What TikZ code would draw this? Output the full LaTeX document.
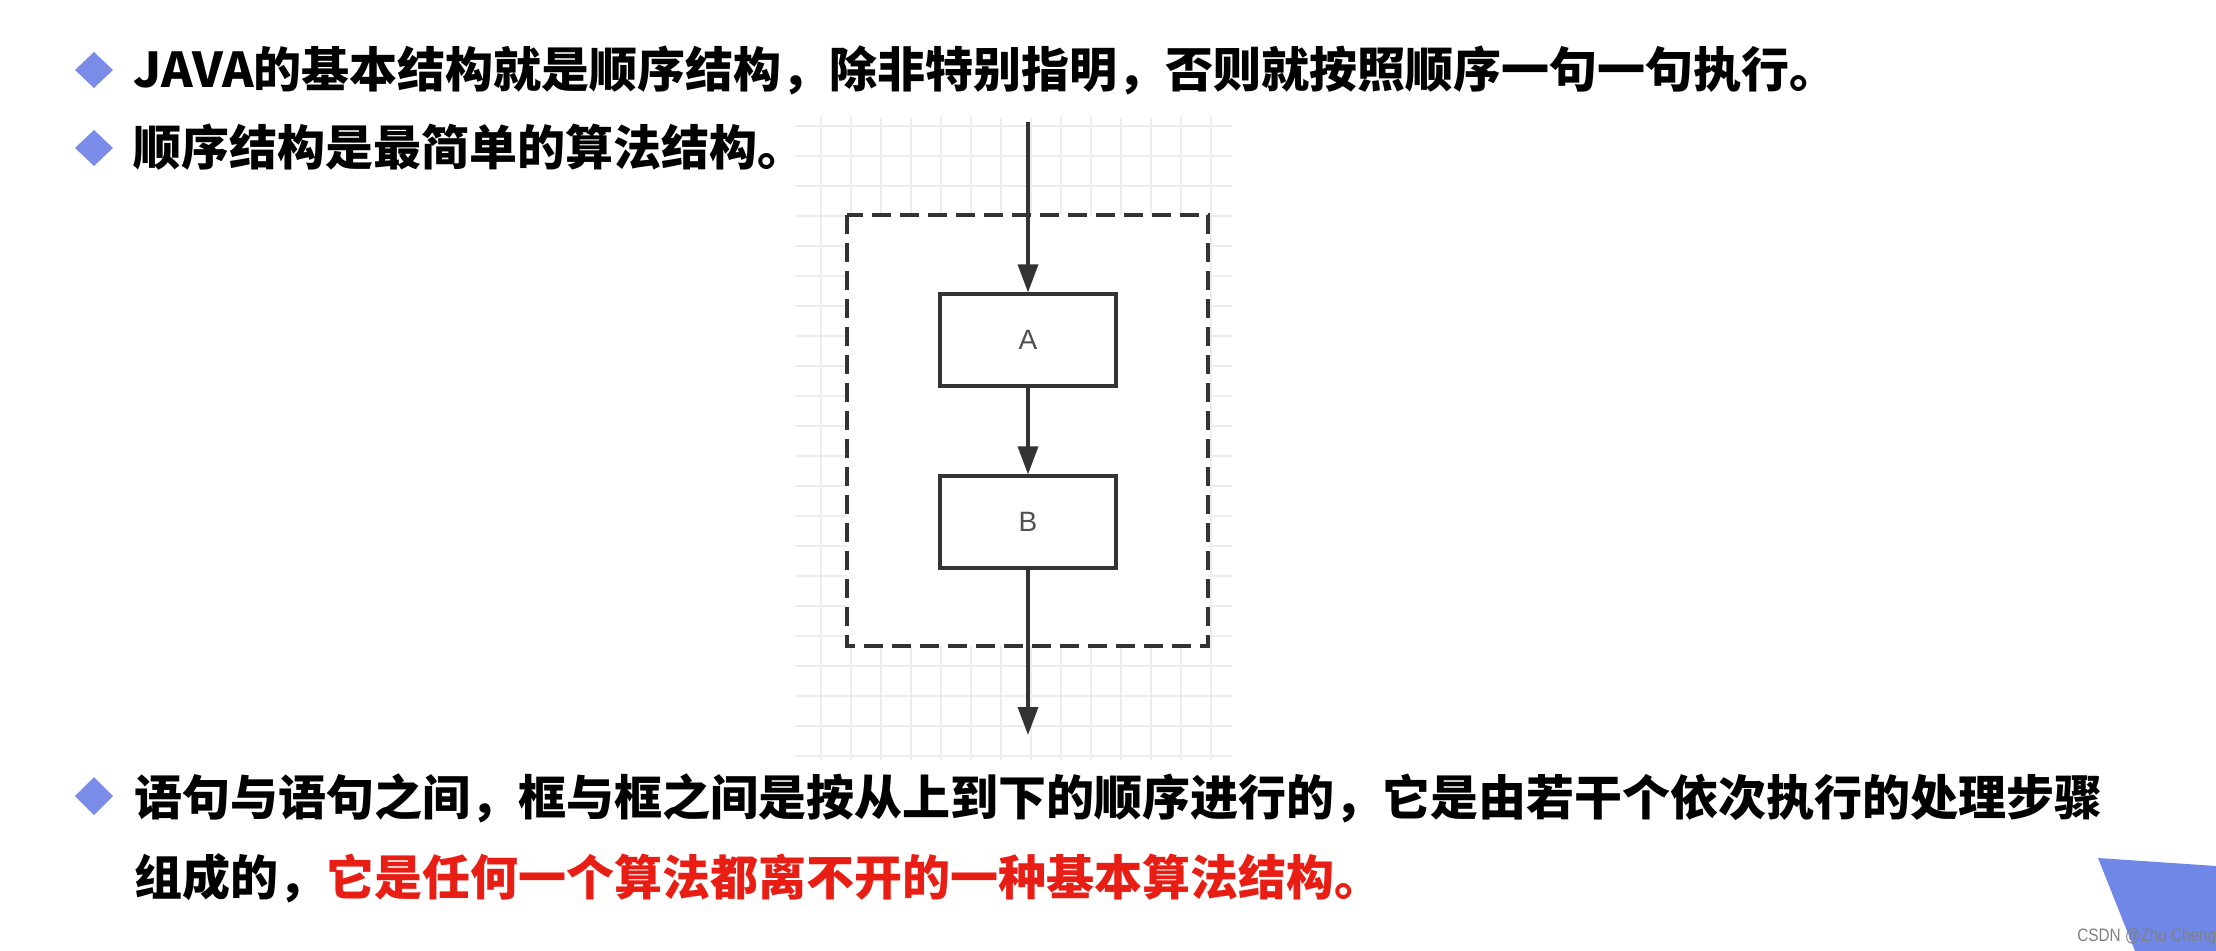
\documentclass[tikz,border=0pt]{standalone}
\usepackage{fontspec}
\usepackage{graphicx}
\setmainfont{Noto Sans CJK SC}
\newfontfamily\labfont{Liberation Sans}
\usetikzlibrary{arrows.meta}
\definecolor{bulletblue}{RGB}{123,139,232}
\definecolor{redtext}{RGB}{232,30,20}
\definecolor{linegray}{RGB}{51,51,51}
\definecolor{labgray}{RGB}{80,80,80}
\definecolor{gridgray}{RGB}{237,237,237}
\definecolor{cornerblue}{RGB}{111,136,232}
\begin{document}
\begin{tikzpicture}[x=0.5pt,y=-0.5pt,
  bullet/.style={fill=bulletblue, draw=none},
  textline/.style={font=\fontsize{24}{28}\selectfont\bfseries, anchor=base west, inner sep=0pt, text=black},
  stepbox/.style={draw=linegray, line width=1.6pt, fill=white, minimum width=88pt, minimum height=46pt, inner sep=0pt, font=\labfont\fontsize{14}{16}\selectfont, text=labgray},
  flow/.style={draw=linegray, line width=1.7pt, -{Triangle[length=14pt,width=10pt]}},
  gridline/.style={draw=gridgray, line width=0.8pt},
  frame/.style={draw=linegray, line width=1.8pt, dash pattern=on 9.5pt off 4.5pt, fill=white}]
\useasboundingbox (0,0) rectangle (2216,951);
\fill[white] (0,0) rectangle (2216,951);
% bullets
\fill[bullet] (75,70) -- (94,52) -- (113,70) -- (94,88) -- cycle;
\fill[bullet] (75,148) -- (94,130) -- (113,148) -- (94,166) -- cycle;
\fill[bullet] (75,796) -- (94,777) -- (113,796) -- (94,815) -- cycle;
% texts
\node[textline] (t1) at (133,88) {JAVA的基本结构就是顺序结构，除非特别指明，否则就按照顺序一句一句执行。};
\node[textline] (t2) at (133,166) {顺序结构是最简单的算法结构。};
\node[textline] (t3) at (134,815) {语句与语句之间，框与框之间是按从上到下的顺序进行的，它是由若干个依次执行的处理步骤};
\node[textline] (t4) at (134,895) {组成的，\textcolor{redtext}{它是任何一个算法都离不开的一种基本算法结构。}};
% grid
\foreach \x in {821,851,...,1211} \draw[gridline] (\x,117) -- (\x,760);
\foreach \y in {126,156,...,756} \draw[gridline] (795,\y) -- (1232,\y);
% dashed frame
\draw[frame] (847,215) rectangle (1208,646);
% flow
\coordinate (start) at (1028,122);
\coordinate (finish) at (1028,735);
\node[stepbox] (A) at (1028,340) {A};
\node[stepbox] (B) at (1028,522) {B};
\draw[flow] (start) -- (A.north);
\draw[flow] (A.south) -- (B.north);
\draw[flow] (B.south) -- (finish);
% corner decoration
\fill[cornerblue] (2098,858) -- (2216,866) -- (2216,951) -- (2135,951) -- cycle;
\node[font=\labfont\fontsize{9}{11}\selectfont, text=gray, anchor=base west, inner sep=0pt] (wm) at (2077,941) {\scalebox{0.85}[1]{CSDN @Zhu Cheng}};
\end{tikzpicture}
\end{document}
